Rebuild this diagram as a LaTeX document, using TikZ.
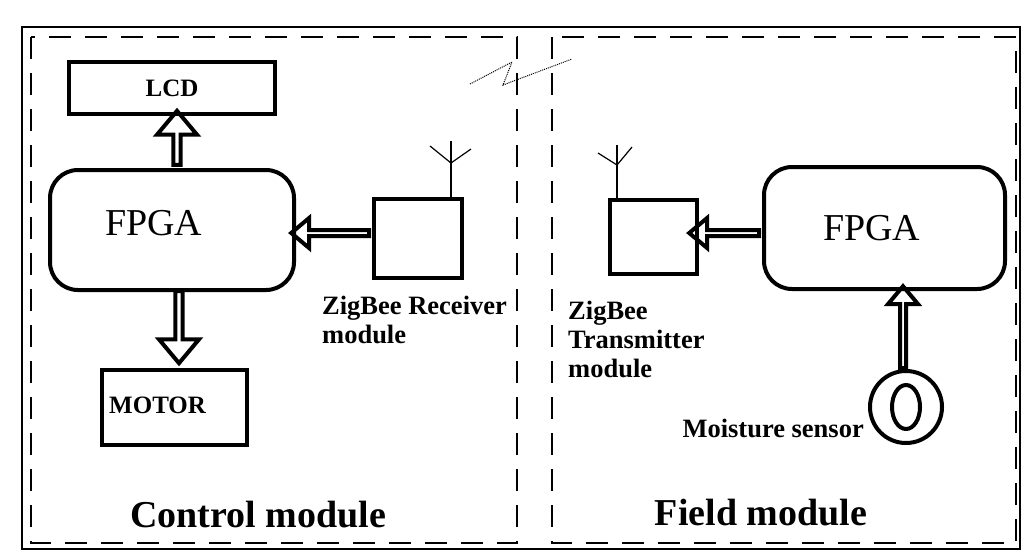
\documentclass[tikz,border=0pt]{standalone}
\usepackage{fontspec}
\setmainfont{Liberation Serif}
\usetikzlibrary{shapes.arrows,calc}
\tikzset{
  box/.style={draw, line width=4pt, inner sep=0pt, anchor=north west},
  fpga/.style={box, rounded corners=28pt},
  lbl/.style={font=\fontsize{26.5}{29}\selectfont\bfseries, align=left, inner sep=0pt},
  big/.style={font=\fontsize{38}{40}\selectfont, inner sep=0pt},
  title/.style={font=\fontsize{38}{40}\selectfont\bfseries, inner sep=0pt},
  module/.style={draw, line width=1.3pt, dash pattern=on 22pt off 14pt},
  ant/.style={line width=1.2pt},
  barrow/.style={single arrow, draw, line width=4pt, inner sep=0pt,
    single arrow tip angle=80, shape border uses incircle=false},
  wide/.style={minimum width=40pt, single arrow head extend=9pt},
  slim/.style={minimum width=30pt, single arrow head extend=8pt}
}
\newcommand\blockarrow[3]{%
  \path let \p1=(#1), \p2=(#2), \n1={veclen(\x2-\x1,\y2-\y1)},
    \n2={atan2(\y2-\y1,\x2-\x1)} in
    node[barrow, #3, minimum height=\n1-2pt, rotate=\n2] at ($(#1)!0.5!(#2)$) {};}
\begin{document}
\begin{tikzpicture}[x=1pt,y=-1pt]
\useasboundingbox (0,0) rectangle (1035,555);
\draw[line width=1.5pt] (22,27) rectangle (1020,549);
\draw[module] (31,37) rectangle (517,543);
\draw[module] (552,37) rectangle (1016,543);
% wireless link
\draw[line width=1pt, densely dotted] (470,84) -- (512,62) -- (503,85) -- (572,59);
% control module
\node[box, minimum width=206pt, minimum height=52pt] (lcd) at (67,60) {};
\node[lbl, font=\fontsize{25}{28}\selectfont\bfseries] at (lcd.center) {LCD};
\node[fpga, minimum width=244pt, minimum height=120pt] (f1) at (48,168) {};
\node[big, anchor=base west] at (105,235) {FPGA};
\node[box, minimum width=145pt, minimum height=75pt] (mot) at (100,368) {};
\node[lbl, font=\fontsize{25}{28}\selectfont\bfseries, anchor=base west] at (109,413) {MOTOR};
\node[box, minimum width=88pt, minimum height=79pt] (rx) at (372,197) {};
\draw[ant] (451,197) -- (451,141);
\draw[ant] (430,146) -- (451,163) -- (471,149);
\node[lbl, anchor=north west] (rxl) at (322,296) {ZigBee Receiver\\module};
\coordinate (a1) at (177,168); \coordinate (a1e) at (177,112);
\coordinate (a2) at (179,288); \coordinate (a2e) at (179,362);
\coordinate (a3) at (372,233); \coordinate (a3e) at (292,233);
\blockarrow{a1}{a1e}{wide}
\blockarrow{a2}{a2e}{wide}
\blockarrow{a3}{a3e}{slim}
\node[title, anchor=base] at (258,527) {Control module};
% field module
\node[box, minimum width=87pt, minimum height=74pt] (tx) at (608,198) {};
\draw[ant] (617,198) -- (617,145);
\draw[ant] (598,153) -- (617,165) -- (632,147);
\node[lbl, anchor=north west] (txl) at (568,301) {ZigBee\\Transmitter\\module};
\node[fpga, minimum width=241pt, minimum height=122pt] (f2) at (762,165) {};
\node[big, anchor=base west] at (823,240) {FPGA};
\node[draw, circle, line width=4pt, minimum size=72pt, inner sep=0pt] (sen) at (906,407) {};
\draw[line width=4pt] (sen.center) ellipse (14 and 22);
\node[lbl, anchor=base east] (senl) at (864,437) {Moisture sensor};
\coordinate (b1) at (762,233); \coordinate (b1e) at (690,233);
\coordinate (b2) at (903,371); \coordinate (b2e) at (903,287);
\blockarrow{b1}{b1e}{slim}
\blockarrow{b2}{b2e}{slim}
\node[title, anchor=base] at (761,525) {Field module};
\end{tikzpicture}
\end{document}
